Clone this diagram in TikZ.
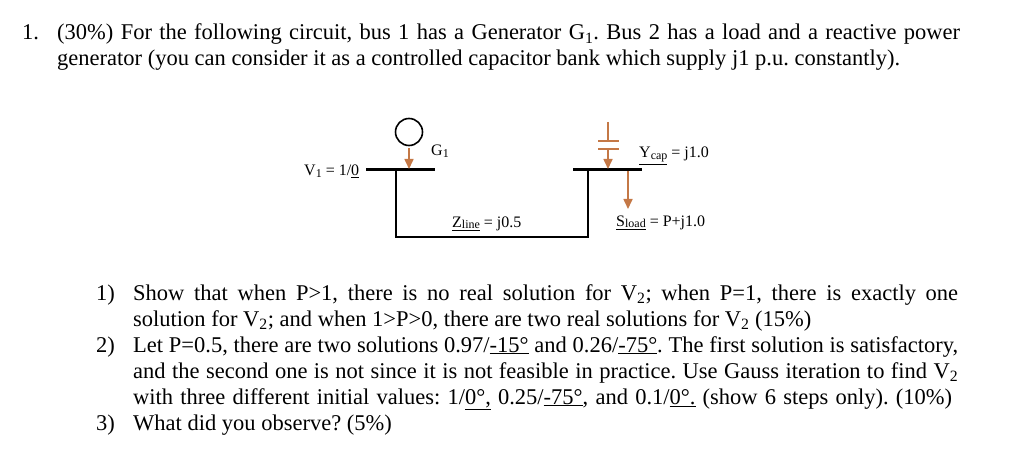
\documentclass[tikz,border=0pt]{standalone}
\usepackage{fontspec}
\setmainfont{Liberation Serif}
\usetikzlibrary{arrows.meta}
\frenchspacing
\newcommand{\ang}[1]{/\underline{#1}}
\newcommand{\sbs}[1]{\raisebox{-0.25ex}{\scalebox{0.75}{#1}}}
\begin{document}
\begin{tikzpicture}[x=1pt,y=-1pt,
  txt/.style={anchor=base west,inner sep=0,font=\fontsize{22.5}{25}\selectfont},
  lbl/.style={anchor=base west,inner sep=0,font=\fontsize{16}{18}\selectfont},
  wire/.style={line width=1.6pt},
  bar/.style={line width=3pt},
  flow/.style={draw={rgb,255:red,196;green,120;blue,70},line width=1.6pt,-{Triangle[length=10pt,width=9pt]}},
  capp/.style={draw={rgb,255:red,196;green,120;blue,70},line width=1.6pt}]
\useasboundingbox (0,0) rectangle (1024,454);
% text
\node[txt] (n1) at (22,40) {1.};
\node[txt] (l1) at (57,40) {\hbox to 903pt{(30\%) For the following circuit, bus 1 has a Generator G\textsubscript{1}. Bus 2 has a load and a reactive power}};
\node[txt] (l2) at (57,66) {generator (you can consider it as a controlled capacitor bank which supply j1 p.u. constantly).};
\node[txt] (i1) at (96,300) {1)};
\node[txt] (a1) at (133,300) {\hbox to 825pt{Show that when P>1, there is no real solution for V\textsubscript{2}; when P=1, there is exactly one}};
\node[txt] (a2) at (133,326) {solution for V\textsubscript{2}; and when 1>P>0, there are two real solutions for V\textsubscript{2} (15\%)};
\node[txt] (i2) at (96,352) {2)};
\node[txt] (b1) at (133,352) {\hbox to 825pt{Let P=0.5, there are two solutions 0.97\ang{-15°} and 0.26\ang{-75°}. The first solution is satisfactory,}};
\node[txt] (b2) at (133,378) {\hbox to 825pt{and the second one is not since it is not feasible in practice. Use Gauss iteration to find V\textsubscript{2}}};
\node[txt] (b3) at (133,404) {\hbox to 819pt{with three different initial values: 1\ang{0°,} 0.25\ang{-75°}, and 0.1\ang{0°.} (show 6 steps only). (10\%)}};
\node[txt] (i3) at (96,430) {3)};
\node[txt] (c1) at (133,430) {What did you observe? (5\%)};
% circuit
\coordinate (b1l) at (366,170); \coordinate (b1r) at (435,170);
\coordinate (b2l) at (573,170); \coordinate (b2r) at (642,170);
\draw[bar] (b1l) -- (b1r);
\draw[bar] (b2l) -- (b2r);
\coordinate (t1) at (396,170); \coordinate (t2) at (588,170);
\draw[wire] (t1) -- (396,237) -- (588,237) -- (t2);
\node[draw,circle,line width=1.6pt,minimum size=27pt,inner sep=0] (gen) at (409,132) {};
\draw[flow] (gen.south) ++(0,2) -- (409,169);
\coordinate (ctop) at (608,122); \coordinate (cp1) at (608,141); \coordinate (cp2) at (608,149);
\draw[capp] (ctop) -- (cp1);
\draw[capp] (598,141) -- (619,141);
\draw[capp] (598,149) -- (619,149);
\draw[flow] (cp2) -- (608,169);
\draw[flow] (628,171) -- (628,209);
\node[lbl] (g1) at (431,156) {G\sbs{1}};
\node[lbl] (v1) at (304,176) {V\sbs{1} = 1/\underline{0}};
\node[lbl] (yc) at (639,158) {\underline{Y\sbs{cap}} = j1.0};
\node[lbl] (zl) at (452,227) {\underline{Z\sbs{line}} = j0.5};
\node[lbl] (sl) at (616,226) {\underline{S\sbs{load}} = P+j1.0};
\end{tikzpicture}
\end{document}
